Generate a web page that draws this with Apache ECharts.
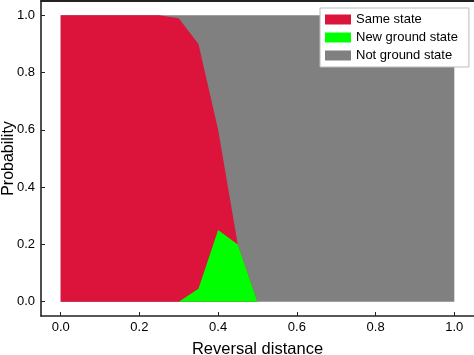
<!DOCTYPE html>
<html>
<head>
<meta charset="utf-8">
<script src="https://cdn.jsdelivr.net/npm/echarts@6/dist/echarts.min.js"></script>
<style>html,body{margin:0;padding:0;background:#fff}#c{width:474px;height:355px}</style>
</head>
<body>
<div id="c"></div>
<script>
const xs = [0,0.05,0.1,0.15,0.2,0.25,0.3,0.35,0.4,0.45,0.5,0.55,0.6,0.65,0.7,0.75,0.8,0.85,0.9,0.95,1.0];
const sameState = [1,1,1,1,1,1,0.99,0.855,0.35,0,0,0,0,0,0,0,0,0,0,0,0];
const newGround = [0,0,0,0,0,0,0,0.045,0.25,0.2,0,0,0,0,0,0,0,0,0,0,0];
const notGround = [0,0,0,0,0,0,0.01,0.1,0.4,0.8,1,1,1,1,1,1,1,1,1,1,1];
const tickVals = [0,0.2,0.4,0.6,0.8,1.0];

const font = "'Liberation Sans', Arial, sans-serif";
// cumulative tops (green at bottom, red above, gray on top)
const topGreen = newGround.slice();
const topRed = newGround.map((g,i)=>g + sameState[i]);
const topGray = topRed.map((r,i)=>r + notGround[i]);
const pairs = arr => xs.map((x,i)=>[x, +arr[i].toFixed(4)]);
const chart = echarts.init(document.getElementById('c'));
const mkSeries = (name, arr, color, z) => ({
  name, type:'line', data:pairs(arr), symbol:'none', showSymbol:false, z,
  lineStyle:{width:0}, areaStyle:{color, opacity:1, origin:0}, itemStyle:{color}, animation:false
});
chart.setOption({
  animation:false,
  grid:{left:41, right:0, top:1, bottom:39, outerBoundsMode:'none', containLabel:false},
  legend:{
    data:['Same state','New ground state','Not ground state'],
    orient:'vertical', left:320, top:8, icon:'rect', itemWidth:26, itemHeight:10, itemGap:3,
    backgroundColor:'#fff', borderColor:'#bbb', borderWidth:1, padding:[4,11,4,5],
    textStyle:{fontFamily:font, fontSize:13, color:'#000', lineHeight:15}
  },
  xAxis:[{
    type:'value', min:-0.05, max:1.05,
    name:'Reversal distance', nameLocation:'middle', nameGap:25, nameMoveOverlap:false,
    nameTextStyle:{fontFamily:font, fontSize:16.5, color:'#000'},
    axisLine:{show:true, onZero:false, lineStyle:{color:'#222', width:1.6}},
    axisTick:{show:true, inside:true, length:4, customValues:tickVals, lineStyle:{color:'#222'}},
    axisLabel:{customValues:tickVals, formatter:v=>v.toFixed(1), fontFamily:font, fontSize:13, color:'#000', margin:5},
    splitLine:{show:false}
  },{
    type:'value', position:'top', min:-0.05, max:1.05,
    axisLine:{show:true, onZero:false, lineStyle:{color:'#222', width:2}},
    axisTick:{show:false}, axisLabel:{show:false}, splitLine:{show:false}
  }],
  yAxis:{
    type:'value', min:-0.05, max:1.05,
    name:'Probability', nameLocation:'middle', nameGap:24, nameMoveOverlap:false,
    nameTextStyle:{fontFamily:font, fontSize:16, color:'#000'},
    axisLine:{show:true, onZero:false, lineStyle:{color:'#222', width:1.6}},
    axisTick:{show:true, inside:true, length:4, customValues:tickVals, lineStyle:{color:'#222'}},
    axisLabel:{customValues:tickVals, formatter:v=>v.toFixed(1), fontFamily:font, fontSize:13, color:'#000', margin:6},
    splitLine:{show:false}
  },
  series:[
    mkSeries('Not ground state', topGray, '#808080', 1),
    mkSeries('Same state', topRed, '#dc143c', 2),
    mkSeries('New ground state', topGreen, '#00ff00', 3)
  ]
});
</script>
</body>
</html>
